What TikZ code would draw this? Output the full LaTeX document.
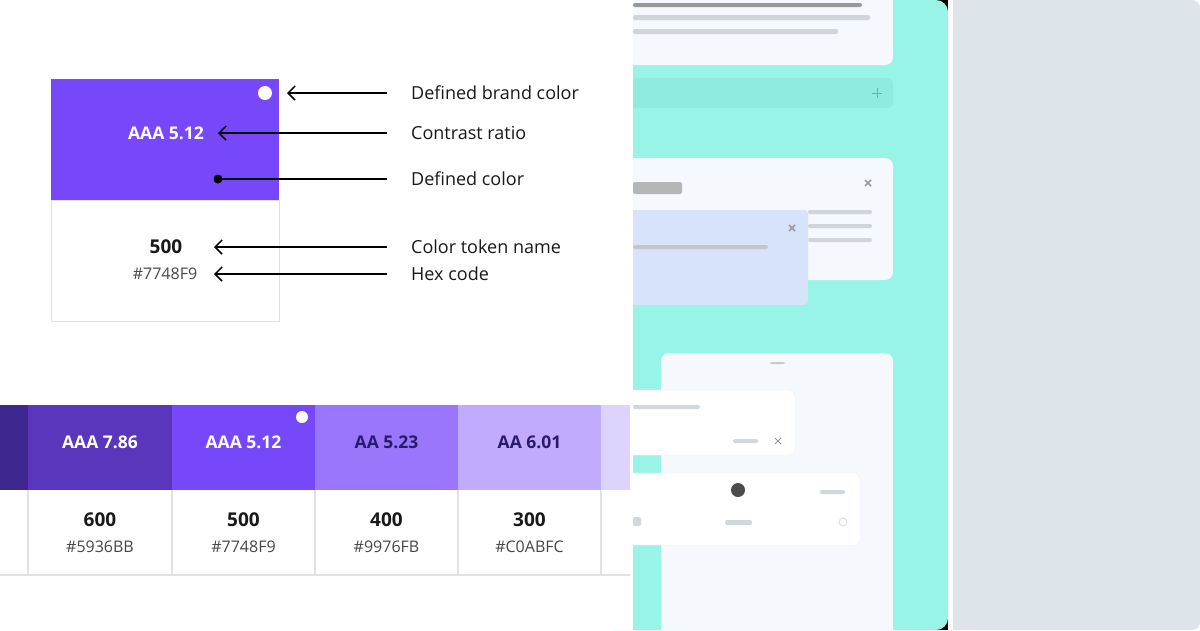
\documentclass[tikz,border=0pt]{standalone}
\usepackage{fontspec}
\setmainfont{Open Sans}
\usetikzlibrary{arrows.meta}
\usetikzlibrary{positioning}

\definecolor{shade700}{HTML}{3F2790}
\definecolor{shade600}{HTML}{5936BB}
\definecolor{shade500}{HTML}{7748F9}
\definecolor{shade400}{HTML}{9976FB}
\definecolor{shade300}{HTML}{C0ABFC}
\definecolor{shade200}{HTML}{DDD3FE}
\definecolor{inkPurple}{HTML}{2A1A6E}
\definecolor{cellLine}{HTML}{E2E2E6}
\definecolor{mintBg}{HTML}{98F4E6}
\definecolor{mintDark}{HTML}{8EEBDD}
\definecolor{cardBg}{HTML}{F5F8FC}
\definecolor{lilacBg}{HTML}{D7E3FA}
\definecolor{panelBg}{HTML}{DDE4EA}
\definecolor{blurInk}{HTML}{C6CDD2}

\tikzset{%
	>={Straight Barb[length=7pt,width=14pt]},
	% Specifications for style of nodes:
	base/.style = {inner sep=0pt, font=\fontsize{18}{21}\selectfont},
	explain/.style = {base, anchor=west, text=black!90},
	grade/.style = {base, font=\bfseries\fontsize{19}{22}\selectfont, text=black!90},
	ratio/.style = {base, font=\bfseries\fontsize{17.5}{21}\selectfont},
	hexcode/.style = {base, font=\fontsize{16}{19}\selectfont, text=black!72},
	swatch/.style = {rectangle, inner sep=0pt, minimum height=85pt},
	dotmark/.style = {circle, inner sep=0pt, minimum size=#1},
	card/.style = {fill=cardBg, rounded corners=8pt},
	blurbar/.style = {fill=blurInk, rounded corners=2pt, opacity=0.8},
	closemark/.style = {draw=black!40, line width=1.5pt},
	pointer/.style = {->, line width=1.5pt, shorten <=24pt},
}

\begin{document}
\begin{tikzpicture}[x=1pt, y=-1pt]
	\useasboundingbox (0,0) rectangle (1200,630);

	% Blurred screenshot on the right (drawn as plain shapes)
	\fill[panelBg, rounded corners=8pt] (935,0) rectangle (1200,630);
	\fill[black] (930,0) rectangle (948,630);
	\fill[white] (948,0) rectangle (953,630);
	\fill[mintBg, rounded corners=12pt] (600,0) rectangle (948,630);

	\fill[card] (600,-20) rectangle (893,65);
	\fill[blurbar, fill=black!50] (633,3) rectangle (862,7);
	\fill[blurbar] (633,15) rectangle (870,20);
	\fill[blurbar] (633,29) rectangle (838,34);
	\fill[mintDark, rounded corners=6pt] (600,78) rectangle (893,108);
	\draw[closemark, line width=1pt] (872,93) -- (882,93) (877,88) -- (877,98);

	\fill[card] (600,158) rectangle (893,280);
	\fill[blurbar, fill=black!35] (633,182) rectangle (682,194);
	\draw[closemark] (865,180) -- (871,186) (865,186) -- (871,180);
	\fill[blurbar] (808,210) rectangle (872,214);
	\fill[blurbar] (808,224) rectangle (872,228);
	\fill[blurbar] (808,238) rectangle (872,242);
	\fill[lilacBg, rounded corners=4pt] (600,210) rectangle (808,305);
	\draw[closemark] (789,225) -- (795,231) (789,231) -- (795,225);
	\fill[blurbar, fill=black!25] (633,245) rectangle (768,249);

	\fill[card] (661,353) rectangle (893,660);
	\fill[blurbar, fill=black!25] (770,362) rectangle (785,364);
	\fill[white, draw=black!6, rounded corners=6pt] (600,390) rectangle (795,455);
	\fill[blurbar] (633,405) rectangle (700,409);
	\fill[blurbar] (733,439) rectangle (758,443);
	\draw[closemark, line width=1pt] (775,438) -- (781,444) (775,444) -- (781,438);
	\fill[white, draw=black!6, rounded corners=6pt] (600,473) rectangle (860,545);
	\fill[black!70] (738,490) circle (7pt);
	\fill[blurbar] (820,490) rectangle (845,494);
	\fill[blurbar] (725,520) rectangle (752,525);
	\fill[blurbar] (633,517) rectangle (641,526);
	\draw[black!12, line width=1pt] (843,522) circle (4pt);

	\fill[white] (0,0) rectangle (633,630);

	% Specification of the single swatch
	\node (brandTop) [swatch, fill=shade500, minimum width=228pt, minimum height=121pt] at (165,139.5) {};
	\node (brandBottom) [swatch, fill=white, draw=cellLine, minimum width=228pt, minimum height=121pt] at (165,260.5) {};

	\node (brandDot) [dotmark=14pt, fill=white] at (265,93) {};
	\node (brandRatio) [ratio, text=white] at (166,133) {AAA 5.12};
	\node (colorDot) [dotmark=9pt, fill=black] at (218,179) {};
	\node (brandName) [grade] at (166,247) {500};
	\node (brandHex) [hexcode] at (165,274) {\#7748F9};

	% Specification of the explanations on the right of it
	\node (lblBrand) [explain] at (411,93) {Defined brand color};
	\node (lblRatio) [explain] at (411,133) {Contrast ratio};
	\node (lblColor) [explain] at (411,179) {Defined color};
	\node (lblName) [explain] at (411,247) {Color token name};
	\node (lblHex) [explain] at (411,274) {Hex code};

	\coordinate (brandTip) at (287,93);
	\coordinate (ratioTip) at (218,133);
	\coordinate (nameTip) at (214,247);
	\coordinate (hexTip) at (214,274);

	\draw[pointer] (lblBrand.west) -- (brandTip);
	\draw[pointer] (lblRatio.west) -- (ratioTip);
	\draw[pointer, -] (lblColor.west) -- (colorDot.center);
	\draw[pointer] (lblName.west) -- (nameTip);
	\draw[pointer] (lblHex.west) -- (hexTip);

	% Specification of the strip of shades
	\node (top700) [swatch, fill=shade700, minimum width=28pt] at (14,447.5) {};
	\node (top600) [swatch, fill=shade600, minimum width=144pt] at (100,447.5) {};
	\node (top500) [swatch, fill=shade500, minimum width=143pt] at (243.5,447.5) {};
	\node (top400) [swatch, fill=shade400, minimum width=143pt] at (386.5,447.5) {};
	\node (top300) [swatch, fill=shade300, minimum width=143pt] at (529.5,447.5) {};
	\node (top200) [swatch, fill=shade200, minimum width=29pt] at (615.5,447.5) {};

	\node (stripDot) [dotmark=12pt, fill=white] at (302,417) {};

	\node (ratio600) [ratio, text=white] at (100,442) {AAA 7.86};
	\node (ratio500) [ratio, text=white] at (243.5,442) {AAA 5.12};
	\node (ratio400) [ratio, text=inkPurple] at (386.5,442) {AA 5.23};
	\node (ratio300) [ratio, text=inkPurple] at (529.5,442) {AA 6.01};

	\node (name600) [grade] at (100,520) {600};
	\node (name500) [grade] at (243.5,520) {500};
	\node (name400) [grade] at (386.5,520) {400};
	\node (name300) [grade] at (529.5,520) {300};

	\node (hex600) [hexcode] at (100,547) {\#5936BB};
	\node (hex500) [hexcode] at (243.5,547) {\#7748F9};
	\node (hex400) [hexcode] at (386.5,547) {\#9976FB};
	\node (hex300) [hexcode] at (529.5,547) {\#C0ABFC};

	% Lines between the white cells
	\draw[cellLine, line width=1.5pt] (0,575) -- (630,575);
	\draw[cellLine, line width=1.5pt] (top600.south west) -- ++(0,85);
	\draw[cellLine, line width=1.5pt] (top500.south west) -- ++(0,85);
	\draw[cellLine, line width=1.5pt] (top400.south west) -- ++(0,85);
	\draw[cellLine, line width=1.5pt] (top300.south west) -- ++(0,85);
	\draw[cellLine, line width=1.5pt] (top200.south west) -- ++(0,85);

\end{tikzpicture}
\end{document}
